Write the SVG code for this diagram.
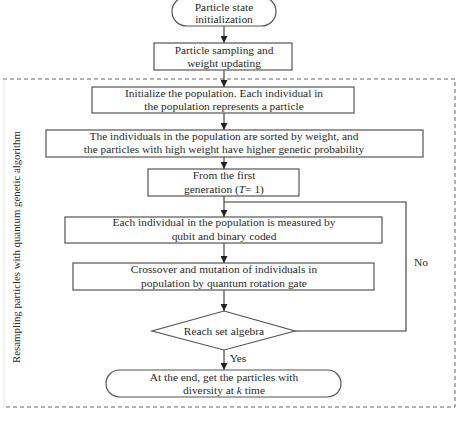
<svg xmlns="http://www.w3.org/2000/svg" width="474" height="424" viewBox="0 0 474 424">
<defs>
<marker id="ah" viewBox="0 0 10 10" refX="10" refY="5" markerWidth="7" markerHeight="7" markerUnits="userSpaceOnUse" orient="auto">
<path d="M0,0 L10,5 L0,10 z" fill="#222"/>
</marker>
</defs>
<style>
.box{fill:#fff;stroke:#555;stroke-width:1.2}
.ln{fill:none;stroke:#333;stroke-width:1.1}
.t{font-family:"Liberation Serif","Times New Roman",serif;font-size:11.4px;fill:#2a2a2a;text-anchor:middle}
.dash{fill:none;stroke:#666;stroke-width:1;stroke-dasharray:4,3}
</style>
<rect width="474" height="424" fill="#fff"/>
<polyline class="dash" points="3,79 455,79 455,407 3,407"/>
<line x1="4" y1="79" x2="4" y2="407" stroke="#ddd" stroke-width="0.8"/>
<text class="t" style="font-size:10.8px" transform="translate(20,247) rotate(-90)">Resampling particles with quantum genetic algorithm</text>
<g id="connectors">
<line class="ln" x1="224" y1="26" x2="224" y2="43" marker-end="url(#ah)"/>
<line class="ln" x1="224" y1="70" x2="224" y2="87" marker-end="url(#ah)"/>
<line class="ln" x1="224" y1="113" x2="224" y2="130" marker-end="url(#ah)"/>
<line class="ln" x1="224" y1="157" x2="224" y2="169" marker-end="url(#ah)"/>
<line class="ln" x1="224" y1="196" x2="224" y2="217" marker-end="url(#ah)"/>
<line class="ln" x1="224" y1="243" x2="224" y2="263" marker-end="url(#ah)"/>
<line class="ln" x1="224" y1="290" x2="224" y2="311" marker-end="url(#ah)"/>
<line class="ln" x1="224" y1="350" x2="224" y2="370" marker-end="url(#ah)"/>
<polyline class="ln" points="295,331 406,331 406,202 224,202"/>
<text class="t" x="238" y="362">Yes</text>
<text class="t" x="421" y="266">No</text>
</g>
<g id="n1">
<rect class="box" x="172" y="-3" width="104" height="29" rx="14.5"/>
<text class="t" x="224" y="11">Particle state</text>
<text class="t" x="224" y="23">initialization</text>
</g>
<g id="n2">
<rect class="box" x="154" y="43" width="138" height="27"/>
<text class="t" x="224" y="54">Particle sampling and</text>
<text class="t" x="224" y="67">weight updating</text>
</g>
<g id="n3">
<rect class="box" x="92" y="87" width="262" height="26"/>
<text class="t" x="224" y="97">Initialize the population. Each individual in</text>
<text class="t" x="224" y="110">the population represents a particle</text>
</g>
<g id="n4">
<rect class="box" x="46" y="130" width="377" height="27"/>
<text class="t" x="224" y="140">The individuals in the population are sorted by weight, and</text>
<text class="t" x="224" y="153">the particles with high weight have higher genetic probability</text>
</g>
<g id="n5">
<rect class="box" x="148" y="169" width="151" height="27"/>
<text class="t" x="224" y="179">From the first</text>
<text class="t" x="224" y="193">generation (<tspan font-style="italic">T</tspan>= 1)</text>
</g>
<g id="n6">
<rect class="box" x="65" y="217" width="317" height="26"/>
<text class="t" x="224" y="226">Each individual in the population is measured by</text>
<text class="t" x="224" y="240">qubit and binary coded</text>
</g>
<g id="n7">
<rect class="box" x="73" y="263" width="301" height="27"/>
<text class="t" x="224" y="273">Crossover and mutation of individuals in</text>
<text class="t" x="224" y="287">population by quantum rotation gate</text>
</g>
<g id="n8">
<polygon class="box" points="224,311 295,331 224,350 152,331"/>
<text class="t" x="224" y="335">Reach set algebra</text>
</g>
<g id="n9">
<rect class="box" x="106" y="370" width="235" height="27" rx="13.5"/>
<text class="t" x="224" y="381">At the end, get the particles with</text>
<text class="t" x="224" y="394">diversity at <tspan font-style="italic">k</tspan> time</text>
</g>
</svg>
